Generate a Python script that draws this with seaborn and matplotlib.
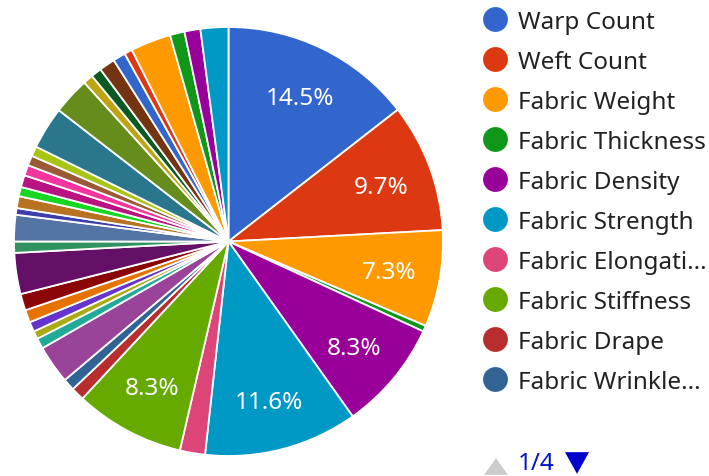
import matplotlib
matplotlib.use("Agg")
import matplotlib.pyplot as plt
import seaborn as sns

sns.set_style("white")
plt.rcParams['font.family'] = ['Noto Sans', 'DejaVu Sans']

# slices, clockwise from 12 o'clock
labels = ["Warp Count", "Weft Count", "Fabric Weight", "Fabric Thickness", "Fabric Density",
          "Fabric Strength", "Fabric Elongation", "Fabric Stiffness", "Fabric Drape",
          "Fabric Wrinkle Recovery", "Fabric Pilling", "Fabric Abrasion", "Fabric Shrinkage",
          "Fabric Porosity", "Fabric Air Permeability", "Fabric Water Repellency",
          "Fabric Colorfastness", "Fabric Luster", "Fabric Handle", "Fabric Crease Resistance",
          "Fabric Tear Strength", "Fabric Bursting Strength", "Fabric Seam Slippage",
          "Fabric Flammability", "Fabric Thermal Resistance", "Fabric Moisture Regain",
          "Fabric Bending Length", "Fabric Cover Factor", "Fabric Crimp", "Fabric Twist",
          "Fabric Hairiness", "Fabric Evenness", "Fabric Snagging", "Fabric Dimensional Stability",
          "Fabric Stretch", "Fabric Recovery", "Fabric Softness"]
values = [14.5, 9.7, 7.3, 0.45, 8.3, 11.6, 1.9, 8.3, 1.0, 0.9,
          2.9, 0.8, 0.6, 0.75, 0.95, 1.25, 3.1, 0.85, 2.0, 0.5,
          0.9, 0.7, 0.9, 0.8, 0.75, 0.75, 3.2, 2.8, 0.75, 0.8,
          1.2, 0.95, 0.6, 3.05, 1.1, 1.2, 2.1]
palette = ["#3366cc", "#dc3912", "#ff9900", "#109618", "#990099", "#0099c6", "#dd4477",
           "#66aa00", "#b82e2e", "#316395", "#994499", "#22aa99", "#aaaa11", "#6633cc",
           "#e67300", "#8b0707", "#651067", "#329262", "#5574a6", "#3b3eac", "#b77322",
           "#16d620", "#b91383", "#f4359e", "#9c5935", "#a9c413", "#2a778d", "#668d1c",
           "#bea413", "#0c5922", "#743411"]
colors = [palette[i % len(palette)] for i in range(len(values))]

H = 477
fig = plt.figure(figsize=(7.09, 4.77), dpi=100)
ax = fig.add_axes([0, 0, 1, 1])

wedges, texts, autotexts = ax.pie(
    values, colors=colors, center=(228.5, H - 242.5), radius=214.5,
    startangle=90, counterclock=False,
    wedgeprops=dict(edgecolor='white', linewidth=1.3),
    autopct=lambda p: f"{p:.1f}%" if p > 5 else "", pctdistance=0.76,
    textprops=dict(color='white', fontsize=17.5))
# google-style label placement: centre the digits, not the text box
for t in autotexts:
    x, y = t.get_position()
    t.set_position((x, y - 8.5))
    t.set_va('baseline')

ax.set_xlim(0, 709)
ax.set_ylim(0, H)
ax.set_aspect('equal')
ax.axis('off')

# legend, page 1 of 4
for i in range(10):
    y = H - (20.5 + 40 * i)
    ax.scatter([495.5], [y], s=320, color=colors[i], edgecolor='none')
    name = labels[i]
    if len(name) > 16:
        name = name[:15].rstrip() + "..."
    ax.text(518, y - 8.5, name, fontsize=17.5, color='#222222', va='baseline', ha='left')

up = [(-1, -0.7), (1, -0.7), (0, 0.7)]
down = [(-1, 0.9), (1, 0.9), (0, -0.9)]
ax.scatter([496], [H - 467.5], marker=up, s=300, color='#cccccc', edgecolor='none')
ax.text(518, H - 470, "1/4", fontsize=17.5, color='#0011cc', va='baseline', ha='left')
ax.scatter([577], [H - 464], marker=down, s=300, color='#0000cc', edgecolor='none')

fig.savefig("out.png", dpi=100)
